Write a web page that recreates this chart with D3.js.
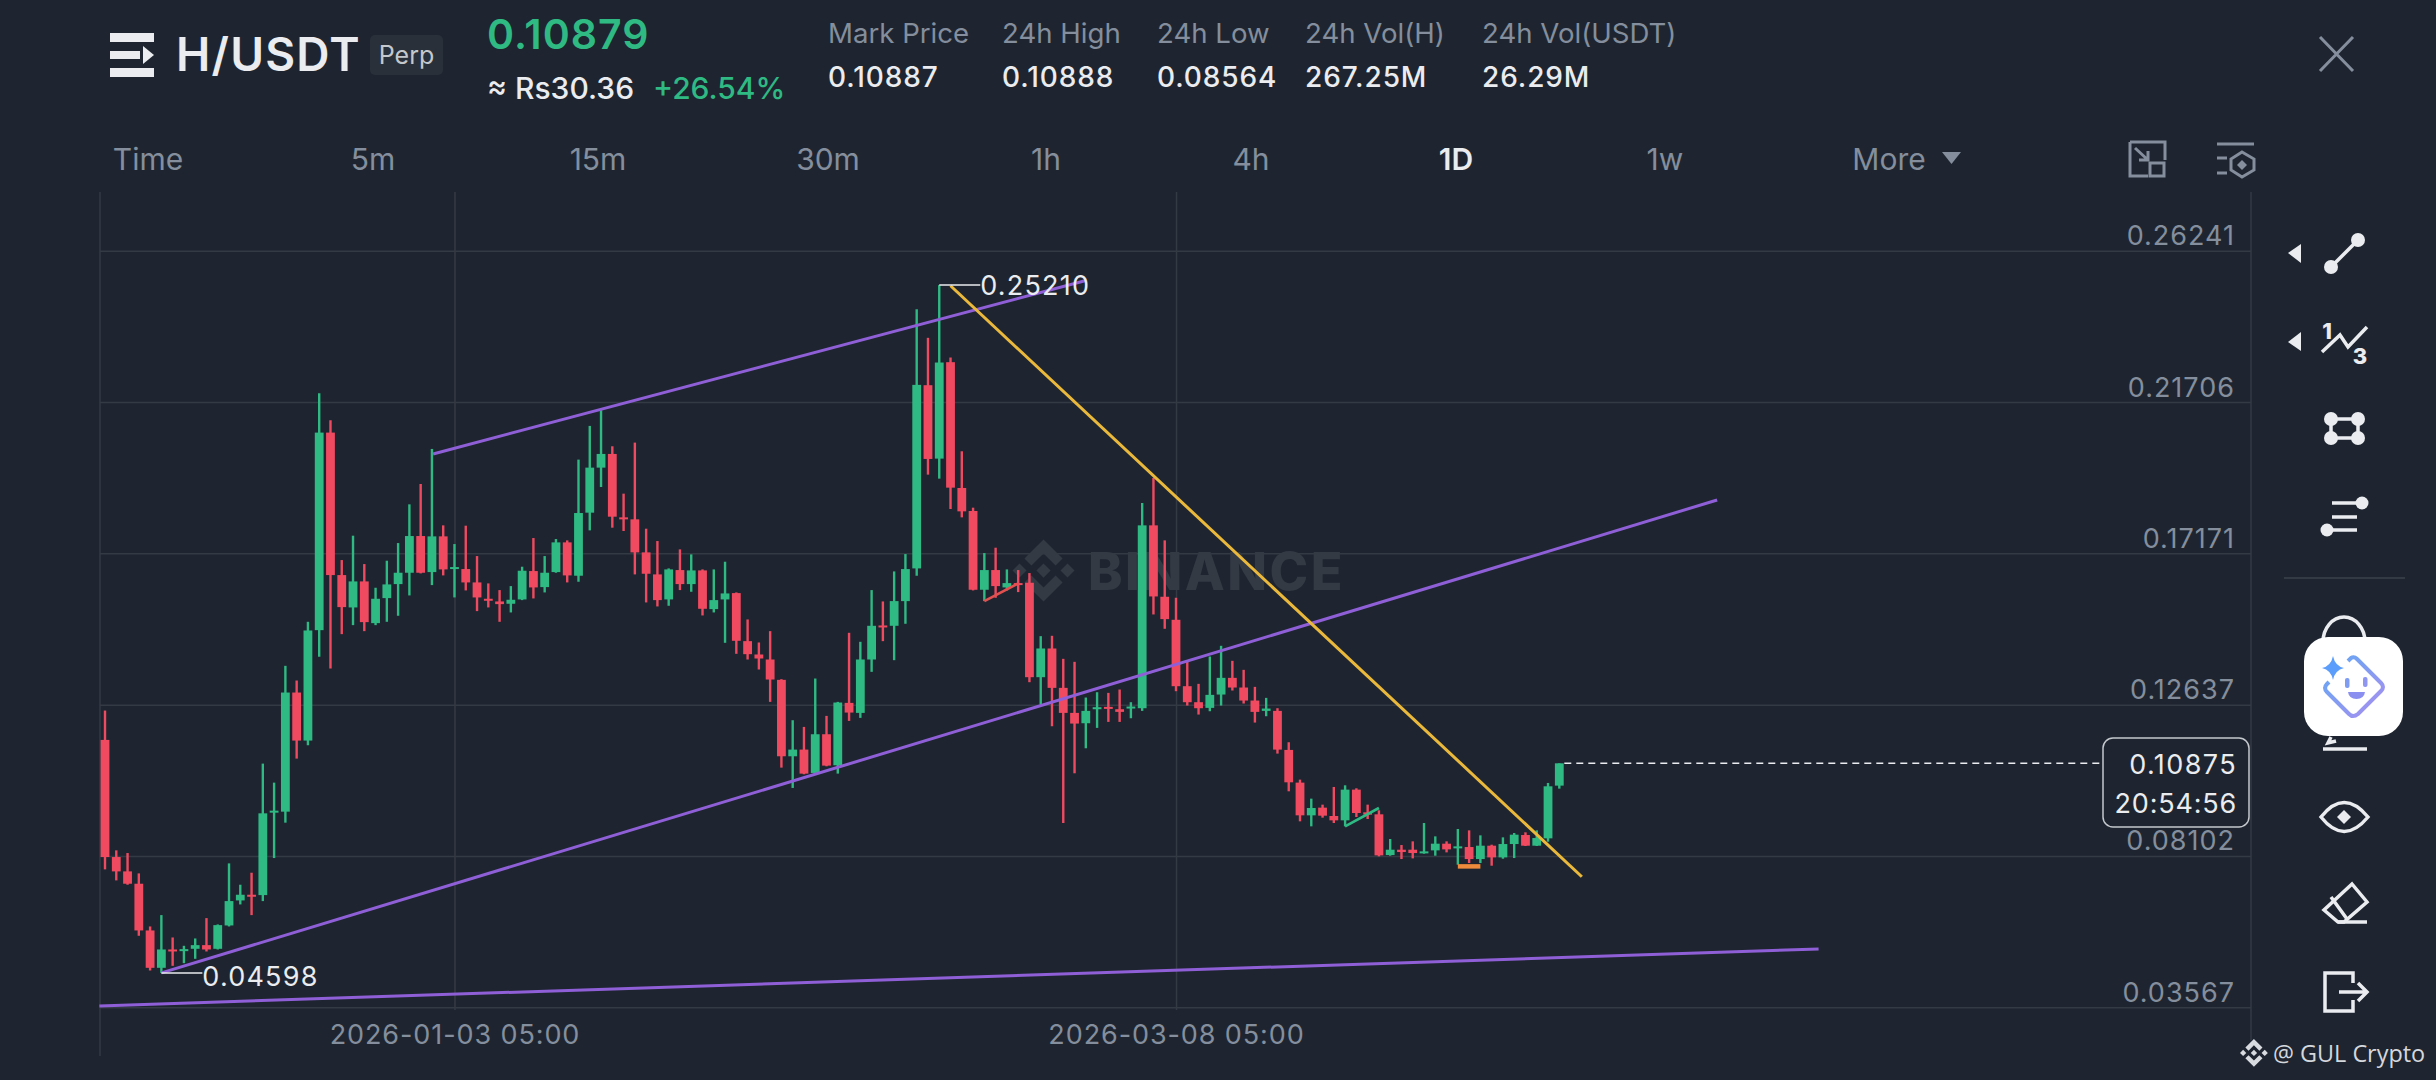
<!DOCTYPE html>
<html>
<head>
<meta charset="utf-8">
<title>H/USDT Perp</title>
<script src="https://cdn.jsdelivr.net/npm/d3@7"></script>
<style>
  html, body { margin: 0; padding: 0; background: #1e2530; overflow: hidden; }
  svg { display: block; }
  text { font-family: Inter, "Noto Sans", sans-serif; }
</style>
</head>
<body>
<svg width="2436" height="1080"></svg>
<script>
/*Daily candles*/
var opens = [
  .1158,.0807,.0764,.0727,.0587,.0475,.0530,.0525,.0532,.0543,
  .0532,.0602,.0677,.0694,.0693,.0941,.0943,.1300,.1156,.1487,
  .2079,.1652,.1555,.1633,.1508,.1583,.1625,.1659,.1769,.1661,
  .1768,.1670,.1670,.1630,.1581,.1573,.1566,.1579,.1664,.1616,
  .1661,.1750,.1650,.1839,.1974,.2015,.1825,.1819,.1720,.1654,
  .1579,.1667,.1625,.1666,.1550,.1579,.1598,.1454,.1414,.1399,
  .1338,.1109,.1129,.1059,.1175,.1082,.1269,.1239,.1399,.1501,
  .1500,.1574,.1672,.2221,.2001,.2290,.1913,.1844,.1608,.1667,
  .1615,.1628,.1629,.1346,.1432,.1314,.1239,.1208,.1250,.1257,
  .1250,.1252,.1253,.1801,.1587,.1518,.1319,.1271,.1254,.1294,
  .1344,.1315,.1276,.1245,.1245,.1128,.1030,.0932,.0955,.0930,
  .0917,.1009,.0941,.0935,.0813,.0829,.0829,.0819,.0827,.0847,
  .0834,.0837,.0801,.0841,.0806,.0846,.0873,.0841,.0863,.1021
];
var closes = [
  .0807,.0764,.0727,.0587,.0475,.0530,.0524,.0531,.0543,.0530,
  .0603,.0675,.0694,.0688,.0938,.0946,.1300,.1156,.1486,.2079,
  .1652,.1556,.1633,.1511,.1581,.1624,.1659,.1769,.1659,.1768,
  .1669,.1676,.1630,.1585,.1575,.1565,.1578,.1665,.1615,.1659,
  .1750,.1651,.1838,.1974,.2015,.1827,.1819,.1720,.1656,.1577,
  .1669,.1625,.1666,.1551,.1577,.1597,.1455,.1415,.1402,.1339,
  .1109,.1129,.1057,.1175,.1081,.1270,.1240,.1399,.1500,.1496,
  .1574,.1670,.2222,.2000,.2289,.1914,.1843,.1608,.1667,.1619,
  .1628,.1624,.1346,.1432,.1314,.1239,.1207,.1245,.1256,.1251,
  .1242,.1258,.1801,.1588,.1520,.1319,.1271,.1253,.1293,.1344,
  .1315,.1276,.1242,.1252,.1129,.1031,.0932,.0954,.0931,.0917,
  .1009,.0939,.0934,.0812,.0829,.0822,.0819,.0824,.0847,.0830,
  .0839,.0801,.0841,.0806,.0846,.0874,.0841,.0864,.1019,.10879
];
var highs = [
  .1246,.0827,.0819,.0758,.0599,.0633,.0566,.0541,.0563,.0624,
  .0605,.0788,.0724,.0760,.1087,.1030,.1380,.1336,.1512,.2197,
  .2116,.1697,.1770,.1685,.1614,.1695,.1748,.1864,.1925,.2030,
  .1801,.1745,.1800,.1709,.1627,.1607,.1619,.1677,.1763,.1709,
  .1760,.1756,.1998,.2099,.2146,.2038,.1896,.2049,.1791,.1754,
  .1672,.1729,.1714,.1669,.1669,.1692,.1600,.1519,.1450,.1484,
  .1340,.1217,.1197,.1342,.1230,.1272,.1479,.1452,.1607,.1573,
  .1663,.1715,.2449,.2363,.25210,.2304,.2023,.1854,.1718,.1734,
  .1669,.1667,.1658,.1469,.1470,.1401,.1392,.1285,.1301,.1299,
  .1309,.1271,.1868,.1943,.1756,.1584,.1397,.1326,.1408,.1440,
  .1395,.1368,.1317,.1284,.1253,.1151,.1039,.0982,.0964,.1017,
  .1022,.1013,.0964,.0947,.0861,.0843,.0854,.0909,.0869,.0854,
  .0891,.0887,.0872,.0844,.0866,.0879,.0881,.0887,.1029,.10879
];
var lows = [
  .0770,.0737,.0724,.0571,.0467,.04598,.0481,.0489,.0502,.0524,
  .0530,.0599,.0665,.0633,.0675,.0804,.0910,.1102,.1142,.1407,
  .1372,.1475,.1502,.1484,.1502,.1512,.1530,.1591,.1657,.1622,
  .1651,.1585,.1606,.1544,.1555,.1512,.1540,.1577,.1582,.1600,
  .1659,.1630,.1632,.1786,.1916,.1794,.1784,.1654,.1570,.1558,
  .1560,.1607,.1602,.1531,.1540,.1449,.1416,.1399,.1369,.1272,
  .1075,.1014,.1055,.1057,.1079,.1057,.1215,.1224,.1362,.1454,
  .1397,.1506,.1650,.1953,.1941,.1850,.1825,.1606,.1574,.1584,
  .1606,.1601,.1331,.1264,.1199,.0909,.1058,.1133,.1194,.1212,
  .1212,.1223,.1245,.1534,.1491,.1304,.1261,.1234,.1244,.1261,
  .1306,.1267,.1210,.1229,.1117,.1004,.0914,.0899,.0925,.0909,
  .0899,.0927,.0921,.0809,.0811,.0801,.0803,.0817,.0811,.0821,
  .0784,.0789,.0789,.0781,.0802,.0804,.0840,.0840,.0853,.1012
];

var priceTicks = [0.26241, 0.21706, 0.17171, 0.12637, 0.08102, 0.03567];
var dayTicks = [31, 95];
var dayTickLabels = ["2026-01-03 05:00", "2026-03-08 05:00"];
var lastPrice = 0.10879;

/*Hand drawn lines on the chart: [day, price] at each end*/
var purpleLines = [
  [[5, 0.04598], [143, 0.1877]],
  [[29.1, 0.2015], [87, 0.2535]],
  [[-0.5, 0.03607], [152, 0.05315]]
];
var yellowLine = [[75, 0.2519], [131, 0.0748]];
var redLine = [[78, 0.1574], [81, 0.1627]];
var greenLine = [[110, 0.0899], [113, 0.0954]];
var orangeLine = [[120, 0.0779], [122, 0.0779]];

var statNames = ["Mark Price", "24h High", "24h Low", "24h Vol(H)", "24h Vol(USDT)"];
var statValues = ["0.10887", "0.10888", "0.08564", "267.25M", "26.29M"];
var intervals = ["Time", "5m", "15m", "30m", "1h", "4h", "1D", "1w", "More"];

var bg = "#1e2530", green = "#2fb983", red = "#f04a60", gridCol = "#343a44",
    greyText = "#848e9c", whiteText = "#eaecef", iconCol = "#eaecef";

var svg = d3.select("svg");
svg.append("rect").attr("width", 2436).attr("height", 1080).attr("fill", bg);

var candles = d3.range(opens.length).map(function(i) {
  return {i: i, open: opens[i], close: closes[i], high: highs[i], low: lows[i]};
});

var x = d3.scaleLinear().domain([0, 129]).range([105, 1559.3]);
var y = d3.scaleLinear().domain([0.03567, 0.26241]).range([1007.3, 250.7]);

var lineGen = d3.line()
    .x(function(d) { return x(d[0]); })
    .y(function(d) { return y(d[1]); });

/*Binance mark, used twice*/
var logoPaths = [
  "M38.73 53.2L63.3 28.63l24.59 24.58 14.3-14.3L63.3 0 24.43 38.9z",
  "M0 63.31l14.3-14.3 14.3 14.3-14.3 14.3z",
  "M38.73 73.41L63.3 97.98l24.59-24.58 14.31 14.3-38.9 38.91-38.87-38.88-.01-.01z",
  "M97.99 63.31l14.3-14.3 14.3 14.3-14.3 14.3z",
  "M77.83 63.3L63.3 48.78 48.77 63.3l14.53 14.53z"
];
function logo(px, py, s, col) {
  var g = svg.append("g").attr("transform", "translate(" + px + "," + py + ") scale(" + s + ")");
  logoPaths.forEach(function(p) { g.append("path").attr("d", p).attr("fill", col); });
}

/*Grid comes from the axes*/
var yAxis = svg.append("g")
    .attr("transform", "translate(2251,0)")
    .call(d3.axisLeft(y).tickValues(priceTicks).tickFormat(d3.format(".5f")).tickSize(2151));
yAxis.select(".domain").remove();
yAxis.selectAll("line").attr("stroke", gridCol).attr("stroke-width", 1.5);
yAxis.selectAll("text")
    .attr("x", -16).attr("dy", -6).attr("text-anchor", "end")
    .attr("font-size", 27).attr("letter-spacing", 1).attr("fill", greyText)
    .style("font-family", "Inter");

var xAxis = svg.append("g")
    .attr("transform", "translate(0,1010)")
    .call(d3.axisBottom(x).tickValues(dayTicks)
      .tickFormat(function(d, i) { return dayTickLabels[i]; }).tickSizeInner(-818).tickSizeOuter(0));
xAxis.select(".domain").remove();
xAxis.selectAll("line").attr("stroke", gridCol).attr("stroke-width", 1.5);
xAxis.selectAll("text")
    .attr("y", 34).attr("dy", 0).attr("font-size", 27).attr("letter-spacing", 0.9).attr("fill", greyText)
    .style("font-family", "Inter");

/*Left and right frame lines*/
svg.append("line").attr("x1", 100).attr("x2", 100).attr("y1", 192).attr("y2", 1056).attr("stroke", gridCol).attr("stroke-width", 1.5);
svg.append("line").attr("x1", 2251).attr("x2", 2251).attr("y1", 192).attr("y2", 1040).attr("stroke", gridCol).attr("stroke-width", 1.5);

/*Watermark*/
logo(1012.5, 539.5, 0.49, "#343a44");
svg.append("text").attr("x", 1088).attr("y", 590).attr("font-size", 52).attr("font-weight", 800)
    .attr("letter-spacing", 2.5).attr("fill", "#343a44").text("BINANCE");

/*Candles*/
function candleCol(d) { return d.close >= d.open ? green : red; }

svg.append("g").selectAll("line").data(candles).enter().append("line")
    .attr("x1", function(d) { return x(d.i); })
    .attr("x2", function(d) { return x(d.i); })
    .attr("y1", function(d) { return y(d.high); })
    .attr("y2", function(d) { return y(d.low); })
    .attr("stroke", candleCol)
    .attr("stroke-width", 2.4);

svg.append("g").selectAll("rect").data(candles).enter().append("rect")
    .attr("x", function(d) { return x(d.i) - 4.4; })
    .attr("width", 8.8)
    .attr("y", function(d) { return y(Math.max(d.open, d.close)); })
    .attr("height", function(d) { return Math.max(2, Math.abs(y(d.open) - y(d.close))); })
    .attr("fill", candleCol);

/*Drawn lines*/
purpleLines.forEach(function(l) {
  svg.append("path").attr("d", lineGen(l)).attr("fill", "none").attr("stroke", "#8f5fd8").attr("stroke-width", 3);
});
svg.append("path").attr("d", lineGen(redLine)).attr("fill", "none").attr("stroke", "#e2504f").attr("stroke-width", 2.6);
svg.append("path").attr("d", lineGen(greenLine)).attr("fill", "none").attr("stroke", green).attr("stroke-width", 2.6);
svg.append("path").attr("d", lineGen(orangeLine)).attr("fill", "none").attr("stroke", "#ee8a3c").attr("stroke-width", 4.5);
svg.append("path").attr("d", lineGen(yellowLine)).attr("fill", "none").attr("stroke", "#eab93c").attr("stroke-width", 3);

/*High and low callouts*/
var callouts = [[74, 0.25210, "0.25210", 10], [5, 0.04598, "0.04598", 13]];
callouts.forEach(function(c) {
  svg.append("line").attr("x1", x(c[0])).attr("x2", x(c[0]) + 41).attr("y1", y(c[1])).attr("y2", y(c[1]))
      .attr("stroke", whiteText).attr("stroke-width", 1.5);
  svg.append("text").attr("x", x(c[0]) + 41).attr("y", y(c[1]) + c[3]).attr("font-size", 27)
      .attr("letter-spacing", 1.2).attr("fill", whiteText).text(c[2]);
});

/*Last price line and box*/
svg.append("line").attr("x1", x(129) + 5).attr("x2", 2103).attr("y1", y(lastPrice)).attr("y2", y(lastPrice))
    .attr("stroke", "#eaecef").attr("stroke-width", 1.5).attr("stroke-dasharray", "7 5");
svg.append("rect").attr("x", 2103).attr("y", 738).attr("width", 146).attr("height", 89).attr("rx", 10)
    .attr("fill", bg).attr("stroke", "#c4c8cd").attr("stroke-width", 1.5);
svg.append("text").attr("x", 2237).attr("y", 774).attr("text-anchor", "end").attr("font-size", 27)
    .attr("letter-spacing", 1.4).attr("fill", whiteText).text("0.10875");
svg.append("text").attr("x", 2237).attr("y", 813).attr("text-anchor", "end").attr("font-size", 27)
    .attr("letter-spacing", 0.8).attr("fill", whiteText).text("20:54:56");

/*Header*/
var head = svg.append("g");
head.append("rect").attr("x", 110).attr("y", 33).attr("width", 44).attr("height", 9).attr("fill", iconCol);
head.append("rect").attr("x", 110).attr("y", 51).attr("width", 30).attr("height", 8).attr("fill", iconCol);
head.append("path").attr("d", "M143 46L154 55L143 64Z").attr("fill", iconCol);
head.append("rect").attr("x", 110).attr("y", 68).attr("width", 44).attr("height", 9).attr("fill", iconCol);
head.append("text").attr("x", 176).attr("y", 71).attr("font-size", 46).attr("font-weight", 600).attr("letter-spacing", 1.2).attr("fill", whiteText).text("H/USDT");
head.append("rect").attr("x", 370).attr("y", 35).attr("width", 73).attr("height", 40).attr("rx", 5).attr("fill", "#2a303a");
head.append("text").attr("x", 406.5).attr("y", 64).attr("text-anchor", "middle").attr("font-size", 25).attr("fill", "#c4c8cd").text("Perp");
head.append("text").attr("x", 487).attr("y", 49).attr("font-size", 41).attr("font-weight", 600).attr("letter-spacing", 1).attr("fill", green).text("0.10879");
head.append("text").attr("x", 487).attr("y", 99).attr("font-size", 30).attr("font-weight", 500).attr("fill", whiteText).text("≈ Rs30.36");
head.append("text").attr("x", 653).attr("y", 99).attr("font-size", 30).attr("font-weight", 500).attr("fill", green).text("+26.54%");

var statX = [828, 1002, 1157, 1305, 1482];
statNames.forEach(function(n, i) {
  head.append("text").attr("x", statX[i]).attr("y", 43).attr("font-size", 27.6).attr("fill", greyText).text(n);
  head.append("text").attr("x", statX[i]).attr("y", 87).attr("font-size", 28).attr("font-weight", 500).attr("letter-spacing", 0.9).attr("fill", whiteText).text(statValues[i]);
});

head.append("path").attr("d", "M2320 37L2353 71M2353 37L2320 71").attr("stroke", greyText).attr("stroke-width", 3).attr("fill", "none");

/*Interval tabs*/
var tabX = [148, 373, 598, 828, 1046, 1251, 1456, 1665, 1889];
intervals.forEach(function(n, i) {
  head.append("text").attr("x", tabX[i]).attr("y", 170).attr("text-anchor", "middle").attr("font-size", 30)
      .attr("font-weight", n == "1D" ? 600 : 400)
      .attr("fill", n == "1D" ? whiteText : greyText).text(n);
});
head.append("path").attr("d", "M1942 152L1961 152L1951.5 164Z").attr("fill", greyText);

/*Small tool icons next to the tabs*/
var t = svg.append("g").attr("fill", "none").attr("stroke", greyText).attr("stroke-width", 3);
t.append("path").attr("d", "M2145 142L2165 142L2165 160M2130 142L2130 176L2148 176M2130 142L2145 142");
t.append("rect").attr("x", 2150).attr("y", 163).attr("width", 14).attr("height", 13);
t.append("path").attr("d", "M2135 148L2148 160M2148 151L2148 160L2139 160");
t.append("path").attr("d", "M2217 144L2254 144M2217 158L2227 158M2217 173L2227 173");
t.append("path").attr("d", "M2242 152L2254 159L2254 170L2242 177L2231 170L2231 159Z");
t.append("path").attr("d", "M2242 160L2247 165L2242 170L2237 165Z").attr("fill", greyText).attr("stroke", "none");

/*Right toolbar*/
var tb = svg.append("g").attr("fill", "none").attr("stroke", iconCol).attr("stroke-width", 3.5);
function dot(px, py, r) { tb.append("circle").attr("cx", px).attr("cy", py).attr("r", r).attr("fill", iconCol).attr("stroke", "none"); }

tb.append("path").attr("d", "M2288 253L2301 244L2301 263Z").attr("fill", iconCol).attr("stroke", "none");
tb.append("path").attr("d", "M2288 342L2301 332L2301 351Z").attr("fill", iconCol).attr("stroke", "none");

tb.append("path").attr("d", "M2331 267L2358 240");
dot(2358, 240, 7); dot(2331, 267, 7);

tb.append("path").attr("d", "M2322 352L2340 335L2348 347L2367 327");
svg.append("text").attr("x", 2327).attr("y", 339).attr("text-anchor", "middle").attr("font-size", 22).attr("font-weight", 800).attr("fill", iconCol).text("1");
svg.append("text").attr("x", 2360).attr("y", 364).attr("text-anchor", "middle").attr("font-size", 22).attr("font-weight", 800).attr("fill", iconCol).text("3");

tb.append("rect").attr("x", 2331).attr("y", 419).attr("width", 27).attr("height", 19);
dot(2331, 419, 7); dot(2358, 419, 7); dot(2331, 438, 7); dot(2358, 438, 7);

tb.append("path").attr("d", "M2332 503L2361 503M2332 517L2357 517M2327 530L2357 530");
dot(2362, 503, 6.5); dot(2327, 530, 6.5);

svg.append("line").attr("x1", 2284).attr("x2", 2405).attr("y1", 578).attr("y2", 578).attr("stroke", "#343a44").attr("stroke-width", 2);

/*Floating helper button over the lock and pen icons*/
tb.append("path").attr("d", "M2323 642A21 25 0 0 1 2365 642");
svg.append("rect").attr("x", 2304).attr("y", 637).attr("width", 99).attr("height", 99).attr("rx", 24).attr("fill", "#ffffff");
var grad = svg.append("defs").append("linearGradient").attr("id", "face").attr("x1", 0).attr("y1", 0).attr("x2", 1).attr("y2", 1);
grad.append("stop").attr("offset", 0).attr("stop-color", "#62a8f4");
grad.append("stop").attr("offset", 1).attr("stop-color", "#a88ff0");
svg.append("path").attr("d", "M2348 661L2351 658Q2354 656 2357 659L2381 683Q2385 687 2381 691L2358 714Q2353 718 2349 714L2327 692Q2323 688 2327 684L2329 682")
    .attr("fill", "none").attr("stroke", "url(#face)").attr("stroke-width", 4);
svg.append("path").attr("d", "M2333 656Q2335 666 2344 668Q2335 670 2333 680Q2331 670 2322 668Q2331 666 2333 656Z").attr("fill", "#5b9dfb");
svg.append("rect").attr("x", 2345).attr("y", 678).attr("width", 4.5).attr("height", 10).attr("rx", 2).attr("fill", "#7e9df2");
svg.append("rect").attr("x", 2363).attr("y", 677).attr("width", 4.5).attr("height", 10).attr("rx", 2).attr("fill", "#8f96f1");
svg.append("path").attr("d", "M2348 692L2365 692Q2364 699 2356.5 699Q2349 699 2348 692Z").attr("fill", "#8a8ff0");

tb.append("path").attr("d", "M2331 737L2328 743L2336 741");
tb.append("path").attr("d", "M2323 749L2367 749");

tb.append("path").attr("d", "M2321 817Q2344 788 2368 817Q2344 846 2321 817Z");
svg.append("path").attr("d", "M2344 810L2351 817L2344 824L2337 817Z").attr("fill", iconCol);

tb.append("path").attr("d", "M2352 884L2367 902L2344 922L2338 922L2324 910Z");
tb.append("path").attr("d", "M2331 897L2347 919M2338 922L2367 922");

tb.append("path").attr("d", "M2353 983L2353 973L2325 973L2325 1011L2353 1011L2353 1000");
tb.append("path").attr("d", "M2339 992L2366 992M2358 983L2367 992L2358 1001");

/*Credit*/
logo(2240, 1039, 0.22, "#d8dbdf");
svg.append("text").attr("x", 2273).attr("y", 1062).attr("font-size", 23.4).style("font-family", "'Open Sans'")
    .attr("fill", "#d4d7db").text("@ GUL Crypto");
</script>
</body>
</html>
